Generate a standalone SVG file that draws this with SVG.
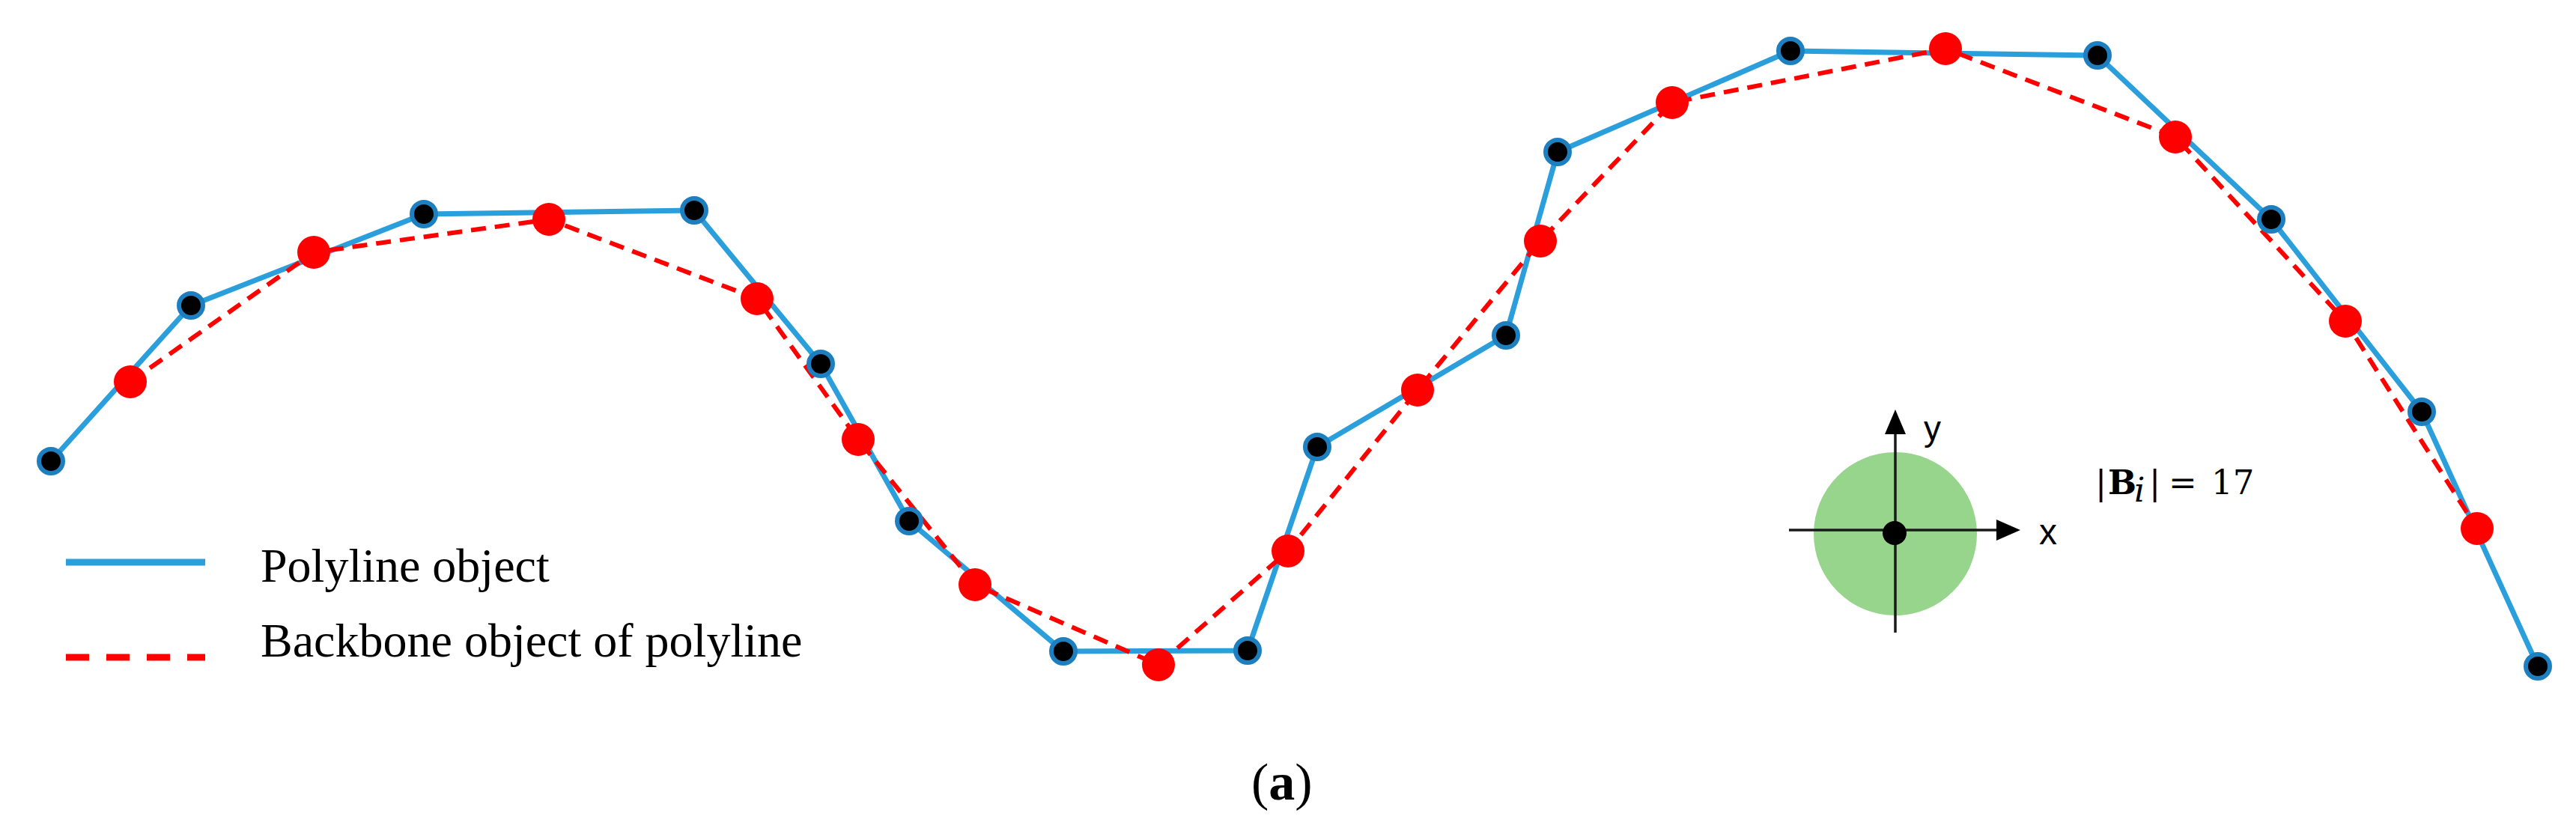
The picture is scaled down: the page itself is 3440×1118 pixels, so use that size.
<svg xmlns="http://www.w3.org/2000/svg" width="3440" height="1118" viewBox="0 0 3440 1118">
<style>
.blue{fill:none;stroke:#2a9fdc;stroke-width:7;stroke-linejoin:round;stroke-linecap:round}
.red{fill:none;stroke:#ff0000;stroke-width:6;stroke-dasharray:20 12}
.bpt{fill:#000;stroke:#1d7fc0;stroke-width:6}
.rpt{fill:#ff0000}
.leg{font-family:"Liberation Serif","Times New Roman",serif;font-size:64px;fill:#000}
.ax{stroke:#1a1a1a;stroke-width:3.5}
.lab{font-family:"Liberation Sans",Arial,sans-serif;fill:#000}
.math{font-family:"DejaVu Serif","Liberation Serif",serif;font-size:45px;fill:#000}
</style>
<rect width="3440" height="1118" fill="#fff"/>
<g id="connectors">
<polyline class="blue" points="68,616 255,408 566,286 927,281 1096,486 1214,696 1420,870 1666,869 1759,597 2011,448 2080,203 2391,68 2801,74 3033,293 3234,550 3389,890"/>
<polyline class="red" points="174,510 419,337 733,293 1011,399 1146,587 1302,781 1547,888 1720,736 1893,521 2057,322 2233,137 2598,65 2905,183 3132,429 3308,706"/>
</g>
<g id="polyline-vertices">
<circle class="bpt" cx="68" cy="616" r="16"/>
<circle class="bpt" cx="255" cy="408" r="16"/>
<circle class="bpt" cx="566" cy="286" r="16"/>
<circle class="bpt" cx="927" cy="281" r="16"/>
<circle class="bpt" cx="1096" cy="486" r="16"/>
<circle class="bpt" cx="1214" cy="696" r="16"/>
<circle class="bpt" cx="1420" cy="870" r="16"/>
<circle class="bpt" cx="1666" cy="869" r="16"/>
<circle class="bpt" cx="1759" cy="597" r="16"/>
<circle class="bpt" cx="2011" cy="448" r="16"/>
<circle class="bpt" cx="2080" cy="203" r="16"/>
<circle class="bpt" cx="2391" cy="68" r="16"/>
<circle class="bpt" cx="2801" cy="74" r="16"/>
<circle class="bpt" cx="3033" cy="293" r="16"/>
<circle class="bpt" cx="3234" cy="550" r="16"/>
<circle class="bpt" cx="3389" cy="890" r="16"/>
</g>
<g id="backbone-vertices">
<circle class="rpt" cx="174" cy="510" r="22"/>
<circle class="rpt" cx="419" cy="337" r="22"/>
<circle class="rpt" cx="733" cy="293" r="22"/>
<circle class="rpt" cx="1011" cy="399" r="22"/>
<circle class="rpt" cx="1146" cy="587" r="22"/>
<circle class="rpt" cx="1302" cy="781" r="22"/>
<circle class="rpt" cx="1547" cy="888" r="22"/>
<circle class="rpt" cx="1720" cy="736" r="22"/>
<circle class="rpt" cx="1893" cy="521" r="22"/>
<circle class="rpt" cx="2057" cy="322" r="22"/>
<circle class="rpt" cx="2233" cy="137" r="22"/>
<circle class="rpt" cx="2598" cy="65" r="22"/>
<circle class="rpt" cx="2905" cy="183" r="22"/>
<circle class="rpt" cx="3132" cy="429" r="22"/>
<circle class="rpt" cx="3308" cy="706" r="22"/>
</g>
<g id="legend">
<line x1="88" y1="751" x2="274" y2="751" stroke="#2a9fdc" stroke-width="9"/>
<text class="leg" x="348" y="777">Polyline object</text>
<line x1="88" y1="878" x2="274" y2="878" stroke="#ff0000" stroke-width="9" stroke-dasharray="31 23"/>
<text class="leg" x="348" y="877">Backbone object of polyline</text>
</g>
<g id="buffer-symbol">
<circle cx="2531" cy="713" r="109" fill="#97d48c"/>
<line class="ax" x1="2531" y1="845" x2="2531" y2="578"/>
<polygon points="2531,547 2517,580 2545,580" fill="#000"/>
<line class="ax" x1="2389" y1="708" x2="2668" y2="708"/>
<polygon points="2698,708 2666,694 2666,722" fill="#000"/>
<circle cx="2530" cy="712" r="16" fill="#000"/>
<text class="lab" x="2569" y="588" font-size="46">y</text>
<text class="lab" x="2723" y="727" font-size="48">x</text>
</g>
<g id="cardinality">
<text class="math" x="2798" y="660">|</text>
<text class="math" x="2815" y="660" font-weight="bold">B</text>
<text class="math" x="2850" y="670" font-size="32" font-style="italic">i</text>
<text class="math" x="2870" y="660">|</text>
<text class="math" x="2896" y="660">=</text>
<text class="math" x="2953" y="660">17</text>
</g>
<g id="caption">
<text x="1671" y="1068" font-family="'Liberation Serif','Times New Roman',serif" font-size="70" fill="#000">(<tspan font-weight="bold">a</tspan>)</text>
</g>
</svg>
